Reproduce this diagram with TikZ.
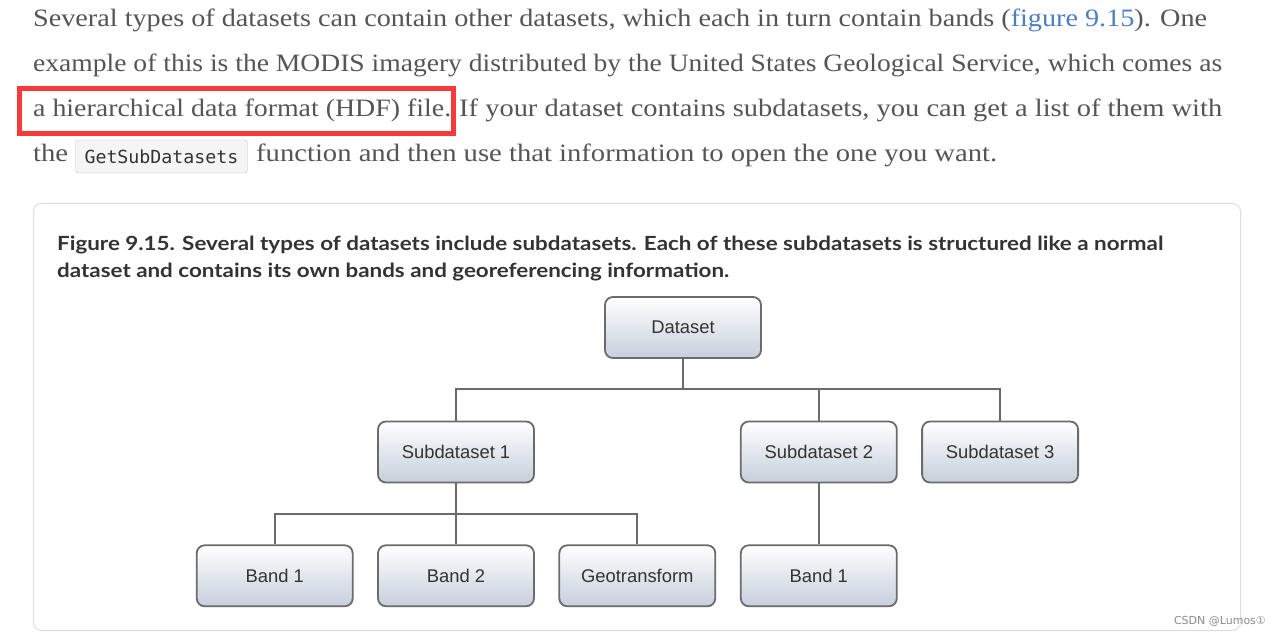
\documentclass[tikz,border=0pt]{standalone}
\usepackage{fontspec}
\usepackage{graphicx}
\usepackage{xcolor}
\usepackage{tikz}
\usetikzlibrary{positioning}
\usetikzlibrary{backgrounds}
\setmainfont{Liberation Serif}
\newfontfamily\capfont{Lato}
\newfontfamily\boxfont{Liberation Sans}
\newfontfamily\codefont{DejaVu Sans Mono}
\newfontfamily\markfont{DejaVu Sans}
\definecolor{bodygray}{HTML}{555555}
\definecolor{linkblue}{HTML}{4A7FC1}
\definecolor{capgray}{HTML}{333333}
\definecolor{framegray}{HTML}{DDDDDD}
\definecolor{linegray}{HTML}{6B6B6B}
\definecolor{boxbottom}{HTML}{C6CFDC}
\definecolor{markred}{HTML}{F43A3A}
% stretch a line of text to a given width (in px)
\newsavebox\fitbox
\newlength\fitlen
\newcommand\fitto[2]{\sbox\fitbox{#2}\setlength\fitlen{\wd\fitbox}%
\pgfmathsetmacro\fitx{#1/\fitlen}\scalebox{\fitx}[1]{\usebox\fitbox}}
\tikzset{every picture/.style={show background rectangle},background rectangle/.style={fill=white,draw=none}}
\tikzset{body/.style={anchor=base west,inner sep=0,text=bodygray,font=\fontsize{25}{29}\selectfont},
captext/.style={anchor=base west,inner sep=0,text=capgray,font=\capfont\bfseries\fontsize{19.5}{23}\selectfont},
item/.style={draw=linegray,line width=1.8pt,rounded corners=8pt,minimum width=156pt,minimum height=61pt,
top color=white,bottom color=boxbottom,text=capgray,font=\boxfont\fontsize{18.4}{22}\selectfont,inner sep=0},
link/.style={draw=linegray,line width=1.8pt}}

\begin{document}
\begin{tikzpicture}[x=1pt,y=-1pt]
\useasboundingbox (0,0) rectangle (1279,636);
% text above the figure
\node (l1) at (33,27) [body] {\fitto{1174}{Several types of datasets can contain other datasets, which each in turn contain bands (\textcolor{linkblue}{figure 9.15}). One}};
\node (l2) at (33,72) [body] {\fitto{1189}{example of this is the MODIS imagery distributed by the United States Geological Service, which comes as}};
\node (l3a) at (33,117) [body] {\fitto{418}{a hierarchical data format (HDF) file.}};
\node (l3b) at (459,117) [body] {\fitto{763}{If your dataset contains subdatasets, you can get a list of them with}};
\node (l4a) at (33,162) [body] {\fitto{35}{the}};
\node (code) at (161.5,156.5) [draw=black!22,fill=black!4,rounded corners=3pt,minimum width=172pt,minimum height=33pt,inner sep=0,text=capgray,font=\codefont\fontsize{18}{21}\selectfont] {\fitto{154}{GetSubDatasets}};
\node (l4b) at (256,162) [body] {\fitto{741}{function and then use that information to open the one you want.}};
\draw[markred,line width=5pt] (19.5,88.5) rectangle (453.5,133.5);
% figure frame
\draw[framegray,line width=1pt,rounded corners=8pt] (33.5,203.5) rectangle (1240.5,630.5);
\node (c1) at (57,251) [captext] {\fitto{1106}{Figure 9.15. Several types of datasets include subdatasets. Each of these subdatasets is structured like a normal}};
\node (c2) at (57,277) [captext] {\fitto{672}{dataset and contains its own bands and georeferencing information.}};
% tree
\node (dataset) at (683,327.5) [item] {Dataset};
\node (sub1) at (456,452) [item] {Subdataset 1};
\node (sub2) [item,right=205pt of sub1] {Subdataset 2};
\node (sub3) [item,right=23.5pt of sub2] {Subdataset 3};
\node (band2) [item,below=61pt of sub1] {Band 2};
\node (band1) [item,left=23.5pt of band2] {Band 1};
\node (geo) [item,right=23.5pt of band2] {Geotransform};
\node (band1b) [item,below=61pt of sub2] {Band 1};
\coordinate (bus1) at (683,389);
\coordinate (bus2) at (456,514);
\draw[link] (dataset) -- (bus1);
\draw[link] (sub1.north) |- (bus1) -| (sub3.north);
\draw[link] (sub2) -- (sub2 |- bus1);
\draw[link] (sub1) -- (bus2);
\draw[link] (band1.north) |- (bus2) -| (geo.north);
\draw[link] (band2) -- (band2 |- bus2);
\draw[link] (sub2) -- (band1b);
\node (mark) at (1266,621) [anchor=east,inner sep=0,text=black!45,font=\markfont\fontsize{11}{13}\selectfont] {CSDN @Lumos①};
\end{tikzpicture}
\end{document}
